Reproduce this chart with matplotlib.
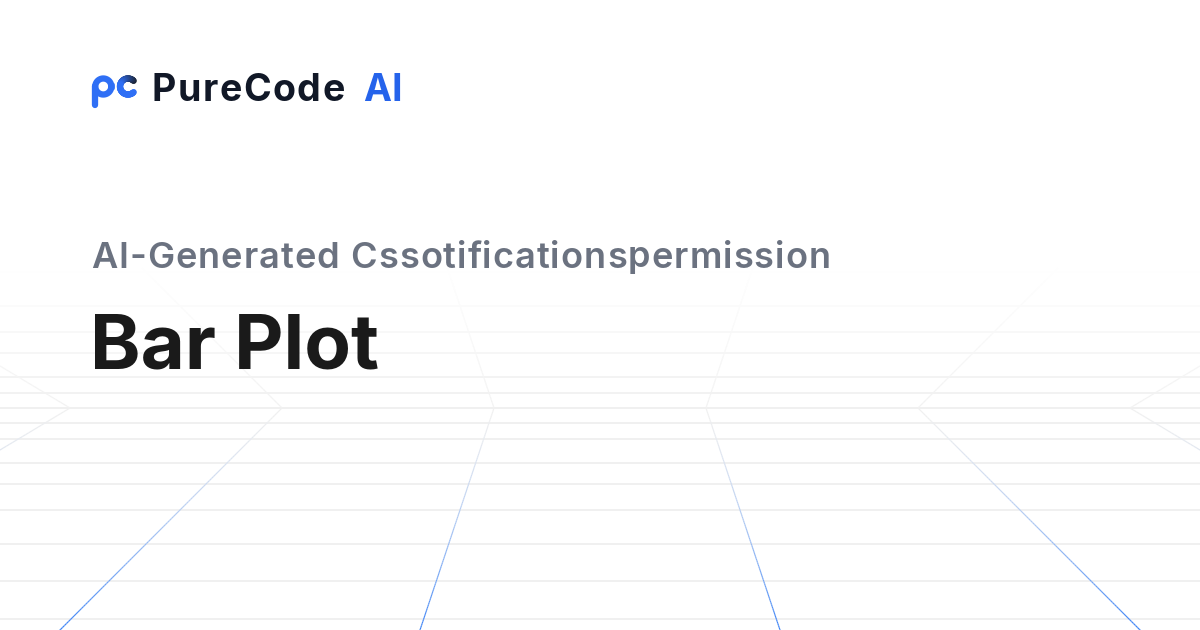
import numpy as np
import matplotlib
matplotlib.use("Agg")
import matplotlib.pyplot as plt
from matplotlib.collections import LineCollection
from matplotlib.colors import to_rgb

# background perspective grid (pixel units, y grows downwards)
horizon_y = 408
row_offsets = [15, 31, 55, 76, 102, 136, 173, 211]   # distance of each rule from the horizon
vertex_x = [70, 282, 494, 706, 918, 1130]             # where the diagonals meet the horizon
vertex_slope = [-5/3, -1, -1/3, 1/3, 1, 5/3]          # dx/dy of the lower diagonals

brand = "PureCode"
brand_ai = "AI"
subtitle = "AI-Generated Cssotificationspermission"
title = "Bar Plot"

W, H = 1200, 630
px = 72 / 100  # points per pixel
FONT = ["Inter", "DejaVu Sans"]

fig = plt.figure(figsize=(12, 6.3), dpi=100)
fig.patch.set_facecolor("white")
ax = fig.add_axes([0, 0, 1, 1])
ax.set_xlim(0, W)
ax.set_ylim(H, 0)
ax.axis("off")
renderer = fig.canvas.get_renderer()

grey = np.array(to_rgb("#f0f0f0"))
white = np.ones(3)
blue = np.array(to_rgb("#3b82f6"))


def fade_top(y):
    # the grid fades into white towards the text
    return np.clip((y - 262) / 150, 0, 1)


# horizontal rules
for off in [0] + row_offsets + [-o for o in row_offsets[:6]]:
    y = horizon_y + off
    a = fade_top(y)
    c = white + (grey - white) * a
    ax.plot([0, W], [y, y], color=c, lw=2 * px, zorder=1, solid_capstyle="butt")


def grad_line(x0, y0, slope, y1, colfun, lw):
    ys = np.linspace(y0, y1, 120)
    xs = x0 + slope * (ys - y0)
    pts = np.column_stack([xs, ys])
    segs = np.stack([pts[:-1], pts[1:]], axis=1)
    cols = [colfun((a + b) / 2) for a, b in zip(ys[:-1], ys[1:])]
    ax.add_collection(LineCollection(segs, colors=cols, linewidths=lw, zorder=2))


def lower_col(y):
    t = np.clip((y - horizon_y) / (H - horizon_y), 0, 1) ** 1.5
    return tuple(grey + (blue - grey) * t)


def upper_col(y):
    a = fade_top(y) * 0.9
    return tuple(white + (grey - white) * a)


for x0, s in zip(vertex_x, vertex_slope):
    grad_line(x0, horizon_y, s, H + 5, lower_col, 1.2 * px)
    grad_line(x0, horizon_y, -s, 240, upper_col, 1.2 * px)


def text_width(s, **kw):
    t = ax.text(0, 0, s, **kw)
    w = t.get_window_extent(renderer).width
    t.remove()
    return w


def tracked_text(x, y, s, track, **kw):
    # matplotlib has no letter-spacing, so place the glyphs one by one
    ref = text_width("x", **kw)
    for i, ch in enumerate(s):
        dx = 0 if i == 0 else text_width(s[:i] + "x", **kw) - ref
        ax.text(x + dx + i * track, y, ch, va="baseline", ha="left", zorder=6, **kw)


# logo: "pc" mark
logo_blue = np.array(to_rgb("#2f6ff5"))
logo_dark = np.array(to_rgb("#1c2434"))
ring_w = 6.3 * px
th = np.linspace(0, 2 * np.pi, 100)
ax.plot(103.3 + 8 * np.cos(th), 86.5 + 8 * np.sin(th), color=logo_blue, lw=ring_w, zorder=5)
ax.plot([95.3, 95.3], [86, 105], color=logo_blue, lw=ring_w, solid_capstyle="round", zorder=5)
th = np.linspace(np.radians(-45), np.radians(-315), 60)
cx, cy, r = 128, 86.5, 8
pts = np.column_stack([cx + r * np.cos(th), cy + r * np.sin(th)])
segs = np.stack([pts[:-1], pts[1:]], axis=1)
tt = np.linspace(0, 1, len(segs))
cols = [tuple(logo_dark + (logo_blue - logo_dark) * min(1, v * 2.2)) for v in tt]
ax.add_collection(LineCollection(segs, colors=cols, linewidths=ring_w, capstyle="round", zorder=5))

tracked_text(152, 101, brand, 1.5, fontsize=27, fontweight="bold", color="#111827", family=FONT)
tracked_text(363, 101, brand_ai, 0.5, fontsize=27, fontweight="bold", color="#2563eb", family=FONT)

tracked_text(91, 267.5, subtitle, 1.0, fontsize=26, fontweight="semibold", color="#6b7280", family=FONT)
ax.text(90, 368.5, title, fontsize=55, fontweight="bold", color="#1a1a1a",
        family=FONT, va="baseline", ha="left", zorder=6)

fig.savefig("out.png", dpi=100, facecolor="white")
